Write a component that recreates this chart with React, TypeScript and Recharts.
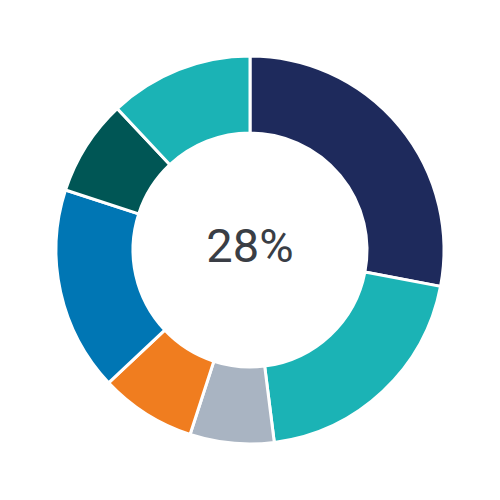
import React from 'react';
import { PieChart, Pie, Cell, Label } from 'recharts';

const segments = ['A', 'B', 'C', 'D', 'E', 'F', 'G'];
const shares = [28, 20, 7, 8, 17, 8, 12];
const colors = ['#1e2a5c', '#1bb3b5', '#a9b4c2', '#f07d1f', '#0076b4', '#005655', '#1bb3b5'];
const centerLabel = '28%';

const data = segments.map((name, i) => ({ name, value: shares[i] }));

function CenterText() {
  return (
    <text
      x={250}
      y={262}
      textAnchor="middle"
      fill="#3a3e45"
      style={{ fontSize: 47, fontFamily: 'Roboto, sans-serif' }}
    >
      {centerLabel}
    </text>
  );
}

export default function App() {
  return (
    <div style={{ position: 'fixed', top: 0, left: 0, width: 500, height: 500, background: '#fff' }}>
      <PieChart width={500} height={500} margin={{ top: 0, right: 0, bottom: 0, left: 0 }}>
        <Pie
          data={data}
          dataKey="value"
          nameKey="name"
          cx={250}
          cy={250}
          innerRadius={117}
          outerRadius={194}
          startAngle={90}
          endAngle={-270}
          stroke="#fff"
          strokeWidth={3}
          isAnimationActive={false}
        >
          {data.map((d, i) => (
            <Cell key={d.name + i} fill={colors[i]} />
          ))}
          <Label content={<CenterText />} position="center" />
        </Pie>
      </PieChart>
    </div>
  );
}
